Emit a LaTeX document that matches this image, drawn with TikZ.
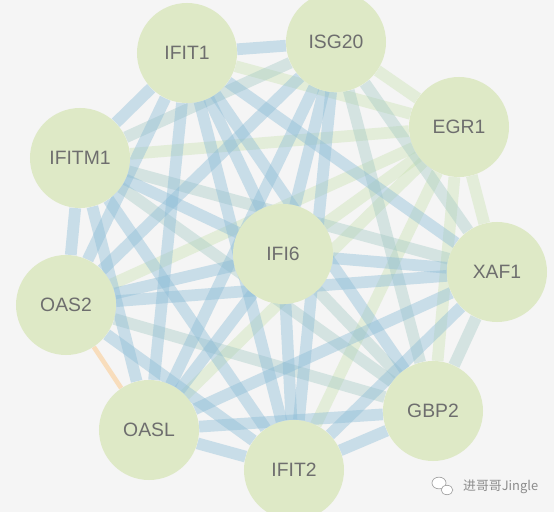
\documentclass[tikz,border=0pt]{standalone}
\usepackage{fontspec}
\setmainfont{Liberation Sans}
\newfontfamily\cjk{Noto Sans CJK SC}
\usetikzlibrary{shapes.geometric}
\pgfdeclarelayer{bg}
\pgfsetlayers{bg,main}
\definecolor{nodegreen}{RGB}{222,233,198}
\definecolor{edgeblue}{RGB}{140,188,215}
\definecolor{edgeteal}{RGB}{160,200,195}
\definecolor{edgegreen}{RGB}{200,225,175}
\definecolor{edgeorange}{RGB}{250,205,150}
\definecolor{labelgray}{RGB}{110,110,110}
\begin{document}
\begin{tikzpicture}[x=0.03cm, y=-0.03cm,
    gene/.style={circle, fill=nodegreen, minimum size=3cm, inner sep=0pt,
      text=labelgray, font=\fontsize{16.5}{18}\selectfont},
    bl/.style={line width=10pt, draw=edgeblue, draw opacity=0.42},
    tl/.style={line width=10pt, draw=edgeteal, draw opacity=0.38},
    gr/.style={line width=10pt, draw=edgegreen, draw opacity=0.4},
    og/.style={line width=4pt, draw=edgeorange, draw opacity=0.6}]
    \useasboundingbox (0,0) rectangle (554,512);
    % nodes
    \node[gene] (IFIT1) at (187,53) {IFIT1};
    \node[gene] (ISG20) at (336,42) {ISG20};
    \node[gene] (EGR1) at (459,127) {EGR1};
    \node[gene] (IFITM1) at (80,158) {IFITM1};
    \node[gene] (IFI6) at (283,254) {IFI6};
    \node[gene] (XAF1) at (497,272) {XAF1};
    \node[gene] (OAS2) at (66,305) {OAS2};
    \node[gene] (GBP2) at (433,411) {GBP2};
    \node[gene] (OASL) at (149,430) {OASL};
    \node[gene] (IFIT2) at (294,470) {IFIT2};
    % watermark
    \node[text=black!45, font=\cjk\fontsize{11}{12}\selectfont, anchor=west] (wm) at (459,487) {进哥哥Jingle};
    \node[draw=black!35, line width=0.6pt, ellipse, minimum width=12pt, minimum height=10pt, inner sep=0pt, fill=white] (wx1) at (439,483) {};
    \node[draw=black!35, line width=0.6pt, ellipse, minimum width=10pt, minimum height=8pt, inner sep=0pt, fill=white] (wx2) at (447,490) {};
    % edges
    \begin{pgfonlayer}{bg}
    \fill[black!4] (0,0) rectangle (554,512);
    \draw[gr] (EGR1) -- (IFIT1); \draw[gr] (EGR1) -- (ISG20); \draw[gr] (EGR1) -- (IFITM1);
    \draw[gr] (EGR1) -- (IFI6); \draw[gr] (EGR1) -- (XAF1); \draw[gr] (EGR1) -- (OAS2);
    \draw[gr] (EGR1) -- (GBP2); \draw[gr] (EGR1) -- (OASL); \draw[gr] (EGR1) -- (IFIT2);
    \draw[tl] (ISG20) -- (IFITM1); \draw[tl] (ISG20) -- (XAF1); \draw[tl] (ISG20) -- (GBP2);
    \draw[tl] (IFITM1) -- (XAF1); \draw[tl] (IFITM1) -- (GBP2); \draw[tl] (XAF1) -- (GBP2);
    \draw[tl] (OAS2) -- (GBP2); \draw[tl] (IFI6) -- (GBP2);
    \draw[bl] (IFIT1) -- (ISG20); \draw[bl] (IFIT1) -- (IFITM1); \draw[bl] (IFIT1) -- (IFI6);
    \draw[bl] (IFIT1) -- (XAF1); \draw[bl] (IFIT1) -- (OAS2); \draw[bl] (IFIT1) -- (GBP2);
    \draw[bl] (IFIT1) -- (OASL); \draw[bl] (IFIT1) -- (IFIT2);
    \draw[bl] (ISG20) -- (IFI6); \draw[bl] (ISG20) -- (OAS2); \draw[bl] (ISG20) -- (OASL);
    \draw[bl] (ISG20) -- (IFIT2);
    \draw[bl] (IFITM1) -- (IFI6); \draw[bl] (IFITM1) -- (OAS2); \draw[bl] (IFITM1) -- (OASL);
    \draw[bl] (IFITM1) -- (IFIT2);
    \draw[bl] (IFI6) -- (XAF1); \draw[bl] (IFI6) -- (OAS2); \draw[bl] (IFI6) -- (OASL);
    \draw[bl] (IFI6) -- (IFIT2);
    \draw[bl] (XAF1) -- (OAS2); \draw[bl] (XAF1) -- (OASL); \draw[bl] (XAF1) -- (IFIT2);
    \draw[bl] (OAS2) -- (IFIT2); \draw[bl] (GBP2) -- (OASL); \draw[bl] (GBP2) -- (IFIT2);
    \draw[bl] (OASL) -- (IFIT2);
    \draw[og] (OAS2) -- (OASL);
    \end{pgfonlayer}
\end{tikzpicture}
\end{document}
